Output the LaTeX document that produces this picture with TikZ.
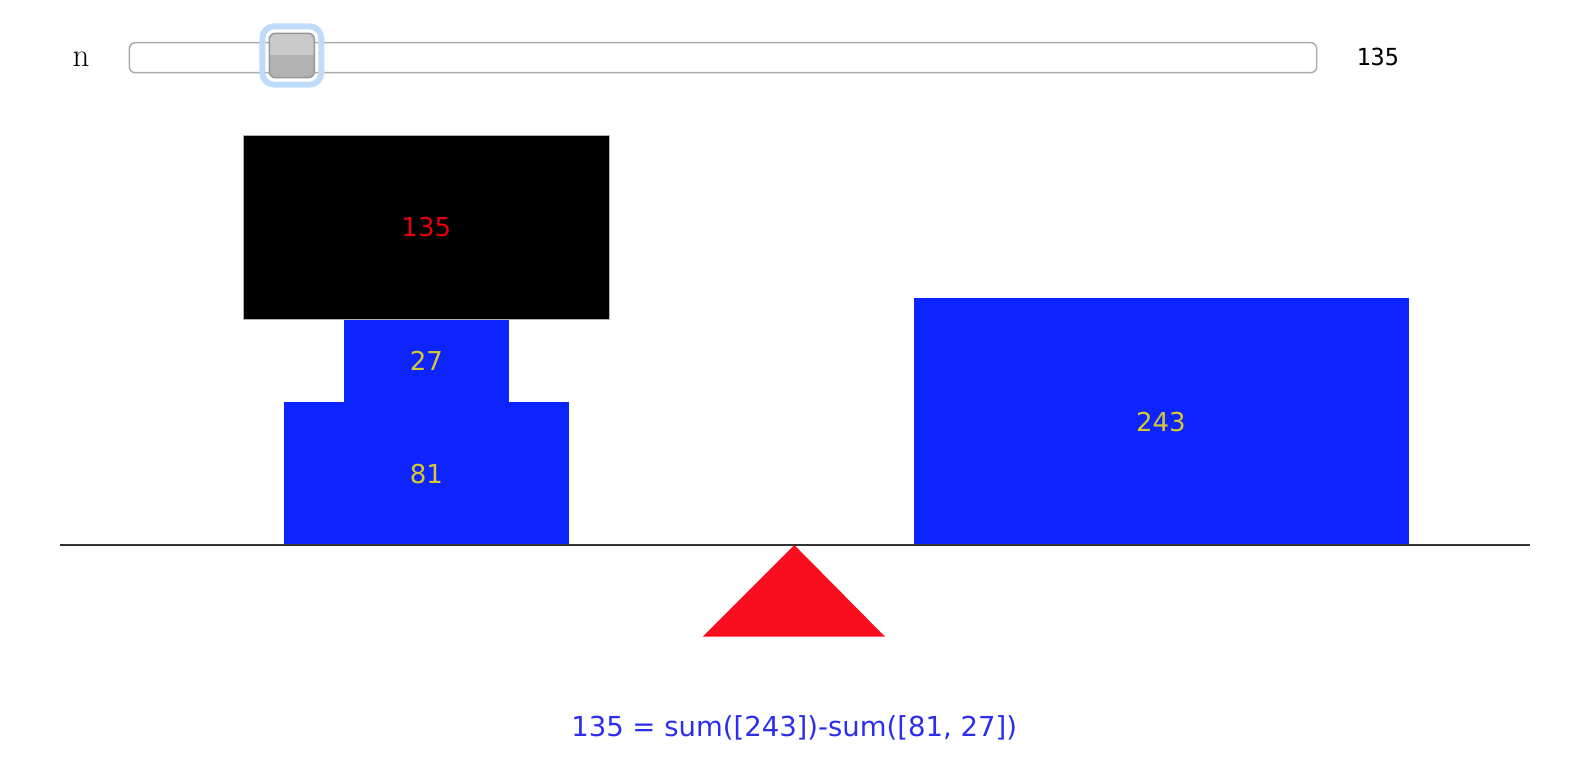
\documentclass[tikz,border=0pt]{standalone}
\usepackage{fontspec}
\newfontfamily\dvsans{DejaVu Sans}
\newfontfamily\dvmono{DejaVu Sans Mono}
\definecolor{blockblue}{RGB}{14,36,255}
\definecolor{labelyellow}{RGB}{215,200,45}
\definecolor{labelred}{RGB}{230,0,10}
\definecolor{fulcrumred}{RGB}{250,14,30}
\definecolor{sumblue}{RGB}{45,45,240}
\definecolor{halo}{RGB}{190,220,250}
\definecolor{trackgray}{RGB}{172,172,172}
\definecolor{thumbtop}{RGB}{202,202,202}
\definecolor{thumbbot}{RGB}{178,178,178}
\definecolor{thumbedge}{RGB}{150,150,150}
\usetikzlibrary{positioning}

\tikzset{
  weight/.style={fill=blockblue, draw=blockblue, line width=0.6pt, inner sep=0pt, text=labelyellow,
                 font=\dvsans\fontsize{26}{26}\selectfont},
}

\begin{document}
\begin{tikzpicture}[x=1pt, y=-1pt]
  \useasboundingbox (0,0) rectangle (1574,778);

  % slider
  \node[anchor=base, font=\fontsize{33}{33}\selectfont] (slidername) at (81,66.7) {n};
  \draw[trackgray, line width=1.5pt, fill=white, rounded corners=6pt] (129.3,42.7) rectangle (1316.7,72.7);
  \draw[halo, line width=6pt, rounded corners=12pt] (262.3,26.3) rectangle (321.3,84.7);
  \begin{scope}
    \clip[rounded corners=6pt] (269.3,33.3) rectangle (314.3,77.7);
    \fill[thumbtop] (269.3,33.3) rectangle (314.3,55.5);
    \fill[thumbbot] (269.3,55.5) rectangle (314.3,77.7);
  \end{scope}
  \draw[thumbedge, line width=1.5pt, rounded corners=6pt] (269.3,33.3) rectangle (314.3,77.7);
  \node[anchor=base west, font=\dvmono\fontsize{23.5}{23.5}\selectfont] (slidervalue) at (1353,65.7) {135};

  % left pan
  \node[weight, anchor=south west, minimum width=284pt, minimum height=142.3pt] (block81) at (284,545) {81};
  \node[weight, above=0pt of block81, minimum width=163.7pt, minimum height=82pt] (block27) {27};
  \node[weight, above=0pt of block27, fill=black, draw=gray!60, line width=0.8pt, text=labelred,
        minimum width=366.3pt, minimum height=184pt] (block135) {135};

  % right pan
  \node[weight, anchor=south west, minimum width=494pt, minimum height=246pt] (block243) at (913.5,545) {243};

  % beam and fulcrum
  \fill[fulcrumred] (794.3,545) -- (885,636.7) -- (702.7,636.7) -- cycle;
  \draw[black!80, line width=2pt] (60,545) -- (1530,545);

  \node[anchor=base, text=sumblue, font=\dvsans\fontsize{27.5}{27.5}\selectfont] (balance) at (794.2,736.7)
    {135 = sum([243])-sum([81, 27])};
\end{tikzpicture}
\end{document}
